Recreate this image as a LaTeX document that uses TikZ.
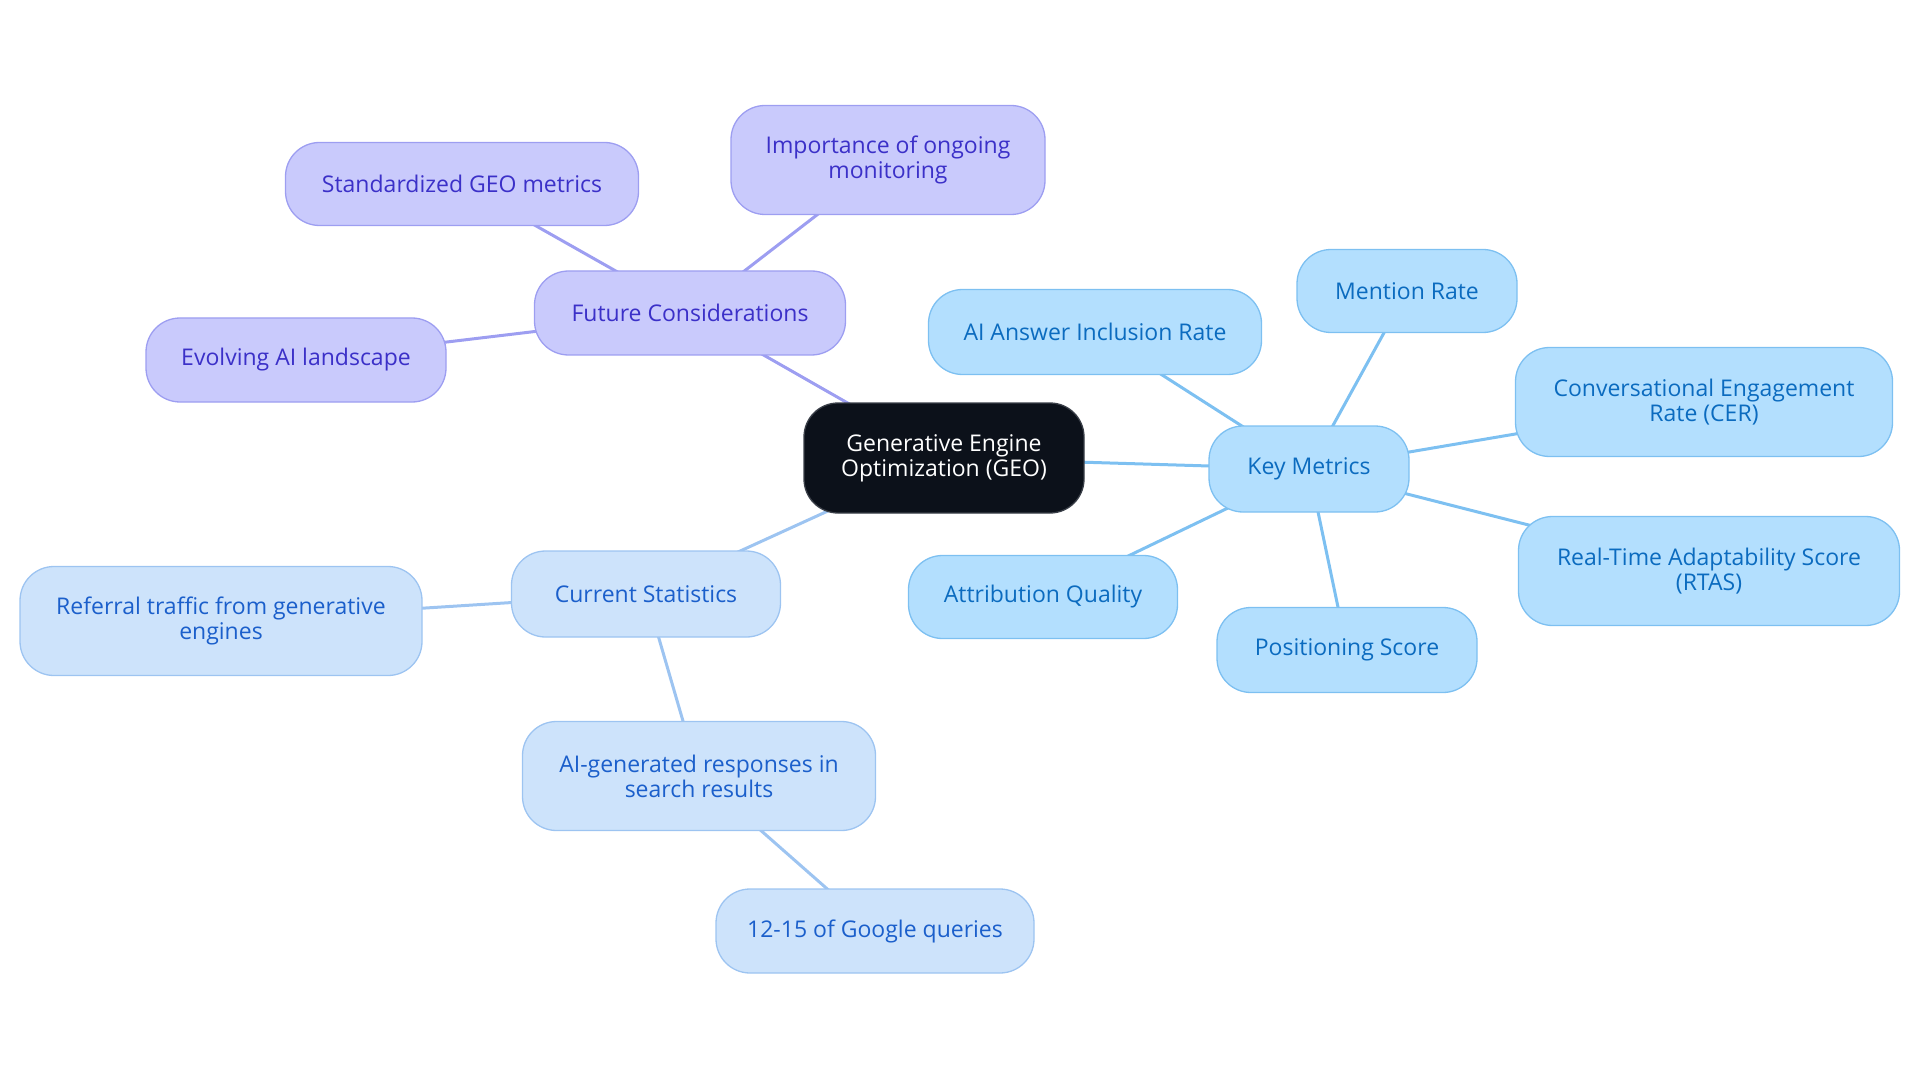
\documentclass[tikz,border=0pt]{standalone}
\usepackage{fontspec}
\setmainfont{Open Sans}
\usetikzlibrary{backgrounds}
\definecolor{pfill}{HTML}{C9CAFC}
\definecolor{pdraw}{HTML}{9D9EF1}
\definecolor{ptext}{HTML}{3B30C8}
\definecolor{kfill}{HTML}{B3DFFE}
\definecolor{kdraw}{HTML}{7DC0F1}
\definecolor{ktext}{HTML}{0B6BBF}
\definecolor{cfill}{HTML}{CDE3FB}
\definecolor{cdraw}{HTML}{9DC4F1}
\definecolor{ctext}{HTML}{1B5FCB}
\definecolor{gfill}{HTML}{0C111A}
\definecolor{gdraw}{HTML}{3A3F48}
\tikzset{
  base/.style={rounded corners=34pt, line width=1.3pt, align=center, inner sep=0pt,
    font=\fontsize{23}{25}\selectfont},
  pnode/.style={base, fill=pfill, draw=pdraw, text=ptext},
  knode/.style={base, fill=kfill, draw=kdraw, text=ktext},
  cnode/.style={base, fill=cfill, draw=cdraw, text=ctext},
  gnode/.style={base, fill=gfill, draw=gdraw, text=white},
  pedge/.style={draw=pdraw, line width=3pt},
  kedge/.style={draw=kdraw, line width=3pt},
  cedge/.style={draw=cdraw, line width=3pt},
}
\begin{document}
\begin{tikzpicture}[x=1pt,y=-1pt]
\useasboundingbox (0,0) rectangle (1920,1083);
\node[gnode, minimum width=280pt, minimum height=110pt] (geo) at (944,458) {Generative Engine\\Optimization (GEO)};
\node[pnode, minimum width=311pt, minimum height=84pt] (fc) at (690,313) {Future Considerations};
\node[pnode, minimum width=353pt, minimum height=83pt] (sgm) at (462,184) {Standardized GEO metrics};
\node[pnode, minimum width=314pt, minimum height=109pt] (iom) at (888,160) {Importance of ongoing\\monitoring};
\node[pnode, minimum width=300pt, minimum height=84pt] (eal) at (296,360) {Evolving AI landscape};
\node[knode, minimum width=200pt, minimum height=86pt] (km) at (1309,469) {Key Metrics};
\node[knode, minimum width=333pt, minimum height=85pt] (aair) at (1095,332) {AI Answer Inclusion Rate};
\node[knode, minimum width=220pt, minimum height=83pt] (mr) at (1407,291) {Mention Rate};
\node[knode, minimum width=377pt, minimum height=109pt] (cer) at (1704,402) {Conversational Engagement\\Rate (CER)};
\node[knode, minimum width=381pt, minimum height=109pt] (rtas) at (1709,571) {Real-Time Adaptability Score\\(RTAS)};
\node[knode, minimum width=260pt, minimum height=85pt] (ps) at (1347,650) {Positioning Score};
\node[knode, minimum width=269pt, minimum height=83pt] (aq) at (1043,597) {Attribution Quality};
\node[cnode, minimum width=269pt, minimum height=86pt] (cs) at (646,594) {Current Statistics};
\node[cnode, minimum width=402pt, minimum height=109pt] (rt) at (221,621) {Referral traffic from generative\\engines};
\node[cnode, minimum width=353pt, minimum height=109pt] (agr) at (699,776) {AI-generated responses in\\search results};
\node[cnode, minimum width=318pt, minimum height=84pt] (gq) at (875,931) {12-15 of Google queries};
\begin{scope}[on background layer]
\draw[pedge] (geo.center) -- (fc.center);
\draw[pedge] (fc.center) -- (sgm.center);
\draw[pedge] (fc.center) -- (iom.center);
\draw[pedge] (fc.center) -- (eal.center);
\draw[kedge] (geo.center) -- (km.center);
\draw[kedge] (km.center) -- (aair.center);
\draw[kedge] (km.center) -- (mr.center);
\draw[kedge] (km.center) -- (cer.center);
\draw[kedge] (km.center) -- (rtas.center);
\draw[kedge] (km.center) -- (ps.center);
\draw[kedge] (km.center) -- (aq.center);
\draw[cedge] (geo.center) -- (cs.center);
\draw[cedge] (cs.center) -- (rt.center);
\draw[cedge] (cs.center) -- (agr.center);
\draw[cedge] (agr.center) -- (gq.center);
\end{scope}
\end{tikzpicture}
\end{document}
